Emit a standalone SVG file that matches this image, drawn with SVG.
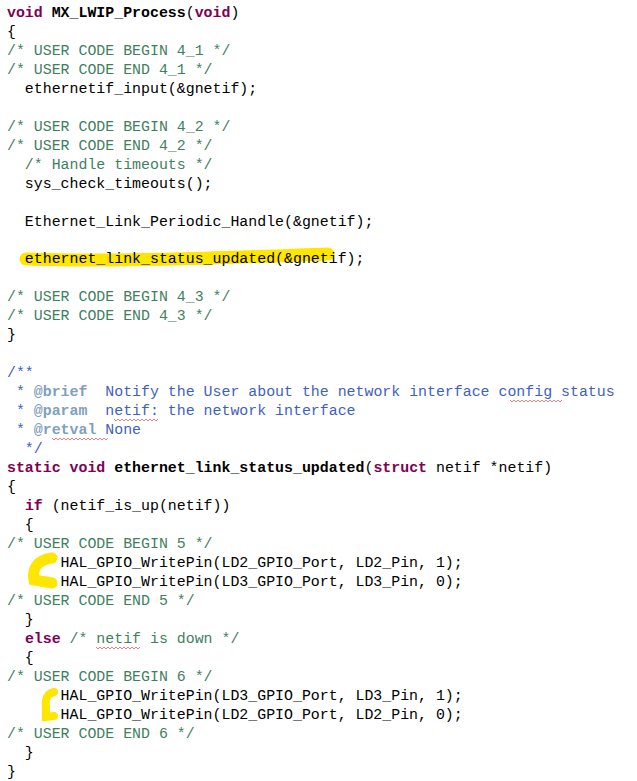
<svg xmlns="http://www.w3.org/2000/svg" width="637" height="781" viewBox="0 0 637 781">
<style>
text{font-family:"Liberation Mono","DejaVu Sans Mono",monospace;font-size:14.9px;fill:#000;white-space:pre}
.k{fill:#7f0055;font-weight:bold}
.b{font-weight:bold}
.c{fill:#3f7f5f}
.j{fill:#3f5fbf}
.t{fill:#7f9fbf;font-weight:bold}
.hl{fill:none;stroke:#ffe600;stroke-linecap:round}
.sq{fill:none;stroke:#e06060;stroke-width:0.8}
</style>
<rect width="637" height="781" fill="#fff"/>
<g id="highlights">
<path class="hl" d="M26 259 C120 262 220 258 328 254" stroke-width="13"/>
<path class="hl" d="M52 558 C36 560 32 570 34 580 L52 583" stroke-width="11"/>
<path class="hl" d="M54 692 C46 694 45 700 46 708 L46 717 L54 716" stroke-width="8"/>
</g>
<g id="code" xml:space="preserve">
<text x="7" y="17"><tspan class="k">void</tspan> <tspan class="b">MX_LWIP_Process</tspan>(<tspan class="k">void</tspan>)</text>
<text x="7" y="36">{</text>
<text x="7" y="55" class="c">/* USER CODE BEGIN 4_1 */</text>
<text x="7" y="74" class="c">/* USER CODE END 4_1 */</text>
<text x="7" y="93">  ethernetif_input(&amp;gnetif);</text>
<text x="7" y="131" class="c">/* USER CODE BEGIN 4_2 */</text>
<text x="7" y="150" class="c">/* USER CODE END 4_2 */</text>
<text x="7" y="169" class="c">  /* Handle timeouts */</text>
<text x="7" y="188">  sys_check_timeouts();</text>
<text x="7" y="226">  Ethernet_Link_Periodic_Handle(&amp;gnetif);</text>
<text x="7" y="263">  ethernet_link_status_updated(&amp;gnetif);</text>
<text x="7" y="301" class="c">/* USER CODE BEGIN 4_3 */</text>
<text x="7" y="320" class="c">/* USER CODE END 4_3 */</text>
<text x="7" y="339">}</text>
<text x="7" y="377" class="j">/**</text>
<text x="7" y="396" class="j"> * <tspan class="t">@brief</tspan>  Notify the User about the network interface config status</text>
<text x="7" y="415" class="j"> * <tspan class="t">@param</tspan>  netif: the network interface</text>
<text x="7" y="434" class="j"> * <tspan class="t">@retval</tspan> None</text>
<text x="7" y="453" class="j">  */</text>
<text x="7" y="472"><tspan class="k">static</tspan> <tspan class="k">void</tspan> <tspan class="b">ethernet_link_status_updated</tspan>(<tspan class="k">struct</tspan> netif *netif)</text>
<text x="7" y="491">{</text>
<text x="7" y="510">  <tspan class="k">if</tspan> (netif_is_up(netif))</text>
<text x="7" y="529">  {</text>
<text x="7" y="548" class="c">/* USER CODE BEGIN 5 */</text>
<text x="7" y="567">      HAL_GPIO_WritePin(LD2_GPIO_Port, LD2_Pin, 1);</text>
<text x="7" y="586">      HAL_GPIO_WritePin(LD3_GPIO_Port, LD3_Pin, 0);</text>
<text x="7" y="605" class="c">/* USER CODE END 5 */</text>
<text x="7" y="624">  }</text>
<text x="7" y="643">  <tspan class="k">else</tspan> <tspan class="c">/* netif is down */</tspan></text>
<text x="7" y="662">  {</text>
<text x="7" y="681" class="c">/* USER CODE BEGIN 6 */</text>
<text x="7" y="700">      HAL_GPIO_WritePin(LD3_GPIO_Port, LD3_Pin, 1);</text>
<text x="7" y="719">      HAL_GPIO_WritePin(LD2_GPIO_Port, LD2_Pin, 0);</text>
<text x="7" y="738" class="c">/* USER CODE END 6 */</text>
<text x="7" y="757">  }</text>
<text x="7" y="776">}</text>
</g>
<g id="squiggles">
<path class="sq" d="M510 400 l2 2 l2 -2 l2 2 l2 -2 l2 2 l2 -2 l2 2 l2 -2 l2 2 l2 -2 l2 2 l2 -2 l2 2 l2 -2 l2 2 l2 -2 l2 2 l2 -2 l2 2 l2 -2 l2 2 l2 -2 l2 2 l2 -2 l2 2 l2 -2"/>
<path class="sq" d="M114 419 l2 2 l2 -2 l2 2 l2 -2 l2 2 l2 -2 l2 2 l2 -2 l2 2 l2 -2 l2 2 l2 -2 l2 2 l2 -2 l2 2 l2 -2 l2 2 l2 -2 l2 2 l2 -2 l2 2 l2 -2"/>
<path class="sq" d="M52 438 l2 2 l2 -2 l2 2 l2 -2 l2 2 l2 -2 l2 2 l2 -2 l2 2 l2 -2 l2 2 l2 -2 l2 2 l2 -2 l2 2 l2 -2 l2 2 l2 -2 l2 2 l2 -2 l2 2 l2 -2 l2 2 l2 -2 l2 2 l2 -2 l2 2 l2 -2"/>
<path class="sq" d="M96 647 l2 2 l2 -2 l2 2 l2 -2 l2 2 l2 -2 l2 2 l2 -2 l2 2 l2 -2 l2 2 l2 -2 l2 2 l2 -2 l2 2 l2 -2 l2 2 l2 -2 l2 2 l2 -2 l2 2 l2 -2"/>
</g>
</svg>
